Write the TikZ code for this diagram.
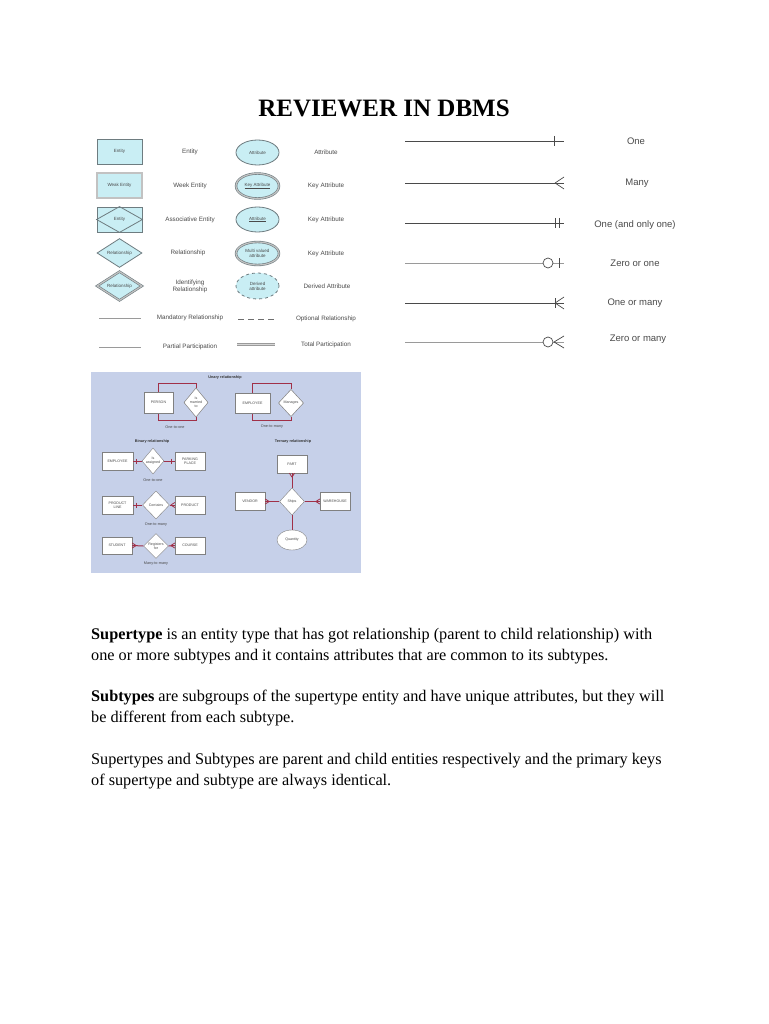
\documentclass[tikz,border=0pt]{standalone}
\usepackage{fontspec}
\setmainfont{Liberation Serif}
\setsansfont{Liberation Sans}
\usetikzlibrary{shapes.geometric,calc}
\definecolor{cyanf}{HTML}{C9EEF4}
\definecolor{bgray}{HTML}{6E7C80}
\definecolor{bluebg}{HTML}{C6D0E9}
\definecolor{maroon}{HTML}{A03048}
\definecolor{lgray}{HTML}{9A9A9A}
\definecolor{dgray}{HTML}{4A4A4A}
\newcommand\fs[2]{\fontsize{#1}{#2}\selectfont}
% crow's foot: prongs at #1, opening in direction given
\newcommand\crowR[4]{\draw[#4] ([shift={(-#2,0)}]#1) -- ([shift={(0,-#3)}]#1) ([shift={(-#2,0)}]#1) -- ([shift={(0,#3)}]#1);}
\newcommand\crowL[4]{\draw[#4] ([shift={(#2,0)}]#1) -- ([shift={(0,-#3)}]#1) ([shift={(#2,0)}]#1) -- ([shift={(0,#3)}]#1);}
\newcommand\crowU[4]{\draw[#4] ([shift={(0,#2)}]#1) -- ([shift={(-#3,0)}]#1) ([shift={(0,#2)}]#1) -- ([shift={(#3,0)}]#1);}
\newcommand\tickV[4]{\draw[#4] ([shift={(#2,-#3)}]#1) -- ([shift={(#2,#3)}]#1);}
\begin{document}
\begin{tikzpicture}[x=1pt,y=-1pt,
  ent/.style={rectangle, draw=bgray, fill=cyanf, line width=0.8pt, minimum width=45pt, minimum height=25pt, inner sep=0pt, font=\sffamily\fs{4.5}{5.2}, text=dgray, align=center},
  att/.style={ellipse, draw=bgray, fill=cyanf, line width=0.8pt, minimum width=43pt, minimum height=25pt, inner sep=0pt, font=\sffamily\fs{4.5}{5.2}, text=dgray, align=center},
  rel/.style={diamond, draw=bgray, fill=cyanf, line width=0.8pt, minimum width=45pt, minimum height=23pt, inner sep=0pt, font=\sffamily\fs{4.5}{5.2}, text=dgray, align=center},
  dbl/.style={double=lgray!60, double distance=1.2pt, line width=0.6pt},
  lab/.style={font=\sffamily\fs{6.3}{7.3}, text=dgray, align=center},
  clab/.style={font=\sffamily\fs{9.5}{11}, text=dgray},
  cline/.style={line width=0.9pt},
  bent/.style={rectangle, draw=gray, fill=white, line width=0.4pt, minimum width=30pt, minimum height=18pt, inner sep=0pt, font=\sffamily\fs{3.6}{4.2}, align=center, text=dgray},
  brel/.style={diamond, draw=gray, fill=white, line width=0.4pt, minimum width=25pt, minimum height=27pt, inner sep=0pt, font=\sffamily\fs{3.6}{4.2}, align=center, text=dgray},
  batt/.style={ellipse, draw=gray, fill=white, line width=0.4pt, minimum width=30pt, minimum height=20pt, inner sep=0pt, font=\sffamily\fs{3.6}{4.2}, text=dgray},
  blab/.style={font=\sffamily\fs{3.8}{4.4}, text=dgray},
  btitle/.style={font=\sffamily\bfseries\fs{3.8}{4.4}, text=black!80},
  mline/.style={draw=maroon, line width=1pt},
  crw/.style={draw=maroon, line width=0.8pt},
  body/.style={font=\fs{16.25}{19}, anchor=base west, inner sep=0pt}
]
\useasboundingbox (0,0) rectangle (768,1024);
\fill[white] (0,0) rectangle (768,1024);

% Title
\node[font=\bfseries\fs{25}{29}, anchor=base, inner sep=0pt] (title) at (384,117) {REVIEWER IN DBMS};

% ---------- Legend ----------
\node[ent] (e1) at (119.5,151.5) {Entity};
\node[lab] (e1l) at (190,152) {Entity};
\node[att] (a1) at (257.5,152.5) {Attribute};
\node[lab] (a1l) at (326,152.5) {Attribute};

\node[ent, dbl] (e2) at (119.5,185.5) {Weak Entity};
\node[lab] (e2l) at (190,186) {Week Entity};
\node[att, dbl] (a2) at (257.5,186) {\underline{Key Attribute}};
\node[lab] (a2l) at (326,186) {Key Attribute};

\node[ent] (e3) at (119.5,219.5) {Entity};
\draw[bgray, line width=0.8pt] (e3.west) -- (e3.north) -- (e3.east) -- (e3.south) -- cycle;
\node[lab] (e3l) at (190,219.5) {Associative Entity};
\node[att] (a3) at (257.5,219.5) {\underline{Attribute}};
\node[lab] (a3l) at (326,219.5) {Key Attribute};

\node[rel] (r4) at (119.5,253) {Relationship};
\node[lab] (r4l) at (188,253) {Relationship};
\node[att, dbl, minimum height=23pt] (a4) at (257.5,253.5) {Multi valued\\attribute};
\node[lab] (a4l) at (326,253.5) {Key Attribute};

\node[rel, dbl] (r5) at (119.5,286) {Relationship};
\node[lab, font=\sffamily\fs{6.3}{7}] (r5l) at (190,286) {Identifying\\Relationship};
\node[att, dashed, minimum height=26pt] (a5) at (257.5,286) {Derived\\attribute};
\node[lab] (a5l) at (327,286) {Derived Attribute};

\coordinate (m1s) at (99,318); \coordinate (m1e) at (141,318);
\draw[lgray, line width=0.8pt] (m1s) -- (m1e);
\node[lab] (m1l) at (190,318) {Mandatory Relationship};
\coordinate (o1s) at (238,319); \coordinate (o1e) at (274,319);
\draw[dgray!80, line width=0.8pt, dash pattern=on 6pt off 4pt] (o1s) -- (o1e);
\node[lab] (o1l) at (326,319) {Optional Relationship};

\coordinate (p1s) at (99,347); \coordinate (p1e) at (141,347);
\draw[lgray, line width=0.8pt] (p1s) -- (p1e);
\node[lab] (p1l) at (190,347) {Partial Participation};
\coordinate (t1s) at (237,344.5); \coordinate (t1e) at (275,344.5);
\draw[lgray, double=lgray!40, double distance=1.2pt, line width=0.6pt] (t1s) -- (t1e);
\node[lab] (t1l) at (326,344.5) {Total Participation};

% ---------- Crow's foot notation ----------
\coordinate (c1s) at (405,141); \coordinate (c1e) at (564,141);
\draw[dgray, cline] (c1s) -- (c1e);
\tickV{c1e}{-10}{5}{dgray, line width=0.7pt}
\node[clab] (c1l) at (636,141) {One};

\coordinate (c2s) at (405,183); \coordinate (c2e) at (564,183);
\draw[dgray, cline] (c2s) -- (c2e);
\crowR{c2e}{9}{6}{dgray, line width=0.7pt}
\node[clab] (c2l) at (637,183) {Many};

\coordinate (c3s) at (405,223); \coordinate (c3e) at (564,223);
\draw[dgray, cline] (c3s) -- (c3e);
\tickV{c3e}{-9}{5}{dgray, line width=0.7pt}
\tickV{c3e}{-5}{5}{dgray, line width=0.7pt}
\node[clab] (c3l) at (635,225) {One (and only one)};

\coordinate (c4s) at (405,263); \coordinate (c4e) at (564,263);
\draw[lgray, cline] (c4s) -- (c4e);
\node[circle, draw=dgray, fill=white, line width=0.7pt, minimum size=10pt, inner sep=0pt] (c4o) at (548,263) {};
\tickV{c4e}{-5}{5}{dgray, line width=0.7pt}
\node[clab] (c4l) at (635,263) {Zero or one};

\coordinate (c5s) at (405,303); \coordinate (c5e) at (564,303);
\draw[dgray, cline] (c5s) -- (c5e);
\tickV{c5e}{-9}{5}{dgray, line width=0.7pt}
\crowR{c5e}{9}{6}{dgray, line width=0.7pt}
\node[clab] (c5l) at (635,303) {One or many};

\coordinate (c6s) at (405,342); \coordinate (c6e) at (564,342);
\draw[lgray, cline] (c6s) -- (c6e);
\node[circle, draw=dgray, fill=white, line width=0.7pt, minimum size=10pt, inner sep=0pt] (c6o) at (548,342) {};
\crowR{c6e}{10}{6}{dgray, line width=0.7pt}
\node[clab] (c6l) at (638,339) {Zero or many};

% ---------- Blue relationship diagram ----------
\fill[bluebg] (91,372) rectangle (361,573);

\node[btitle] (ut) at (225,378) {Unary relationship};
% unary one-to-one
\node[bent, minimum width=29pt, minimum height=21pt] (pe) at (158.5,402.5) {PERSON};
\node[brel, minimum width=24pt, minimum height=29pt] (d1) at (196,402.5) {Is\\married\\to};
\draw[mline] (pe.north) -- ++(0,-8) -| (d1.north);
\draw[mline] (pe.south) -- ++(0,7) -| (d1.south);
\node[bent, minimum width=29pt, minimum height=21pt] (pe2) at (158.5,402.5) {PERSON};
\node[brel, minimum width=24pt, minimum height=29pt] (d1b) at (196,402.5) {Is\\married\\to};
\node[blab] (u1l) at (175,427) {One-to-one};
% unary one-to-many
\node[bent, minimum width=35pt, minimum height=20pt] (em) at (252.5,403) {EMPLOYEE};
\node[brel, minimum width=25pt, minimum height=27pt] (d2) at (291,403) {Manages};
\draw[mline] (em.north) -- ++(0,-9) -| (d2.north);
\draw[mline] (em.south) -- ++(0,7) -| (d2.south);
\node[bent, minimum width=35pt, minimum height=20pt] (em2) at (252.5,403) {EMPLOYEE};
\node[brel, minimum width=25pt, minimum height=27pt] (d2b) at (291,403) {Manages};
\node[blab] (u2l) at (272,427) {One-to-many};

% binary
\node[btitle] (bt) at (152,442) {Binary relationship};
\node[bent, minimum width=31pt] (be1) at (117.5,461) {EMPLOYEE};
\node[brel, minimum width=22pt, minimum height=26pt] (bd1) at (153,461) {Is\\assigned};
\node[bent] (bp1) at (190,461) {PARKING\\PLACE};
\draw[mline] (be1.east) -- (bd1.west);
\draw[mline] (bd1.east) -- (bp1.west);
\tickV{be1.east}{3}{2.5}{crw}
\tickV{bp1.west}{-3}{2.5}{crw}
\node[blab] (b1l) at (153,480) {One-to-one};

\node[bent, minimum width=31pt] (pl) at (117.5,505) {PRODUCT\\LINE};
\node[brel, minimum width=27pt, minimum height=28pt] (bd2) at (156,505) {Contains};
\node[bent] (pr) at (190,505) {PRODUCT};
\draw[mline] (pl.east) -- (bd2.west);
\draw[mline] (bd2.east) -- (pr.west);
\tickV{pl.east}{3}{2.5}{crw}
\crowR{pr.west}{4}{2.5}{crw}
\node[blab] (b2l) at (156,525) {One-to-many};

\node[bent, minimum height=17pt] (st) at (117,545.5) {STUDENT};
\node[brel, minimum width=25pt, minimum height=25pt] (bd3) at (156,546) {Registers\\for};
\node[bent, minimum height=17pt] (co) at (190,545.5) {COURSE};
\draw[mline] (st.east) -- (bd3.west);
\draw[mline] (bd3.east) -- (co.west);
\crowL{st.east}{4}{2.5}{crw}
\crowR{co.west}{4}{2.5}{crw}
\node[blab] (b3l) at (156,564) {Many-to-many};

% ternary
\node[btitle] (tt) at (293,442) {Ternary relationship};
\node[bent] (pa) at (292,464) {PART};
\node[brel, minimum width=25pt, minimum height=27pt] (sh) at (292,501.5) {Ships};
\node[bent] (ve) at (250,501.5) {VENDOR};
\node[bent] (wa) at (335,501.5) {WAREHOUSE};
\node[batt] (qu) at (292,540) {Quantity};
\draw[mline] (pa.south) -- (sh.north);
\draw[mline] (ve.east) -- (sh.west);
\draw[mline] (sh.east) -- (wa.west);
\draw[mline] (sh.south) -- (qu.north);
\crowU{pa.south}{4}{2.5}{crw}
\crowL{ve.east}{4}{2.5}{crw}
\crowR{wa.west}{4}{2.5}{crw}

% ---------- Body text ----------
\node[body] (l1) at (91,639) {\textbf{Supertype} is an entity type that has got relationship (parent to child relationship) with};
\node[body] (l2) at (91,660) {one or more subtypes and it contains attributes that are common to its subtypes.};
\node[body] (l3) at (91,701) {\textbf{Subtypes} are subgroups of the supertype entity and have unique attributes, but they will};
\node[body] (l4) at (91,722) {be different from each subtype.};
\node[body] (l5) at (91,764) {Supertypes and Subtypes are parent and child entities respectively and the primary keys};
\node[body] (l6) at (91,785) {of supertype and subtype are always identical.};
\end{tikzpicture}
\end{document}
